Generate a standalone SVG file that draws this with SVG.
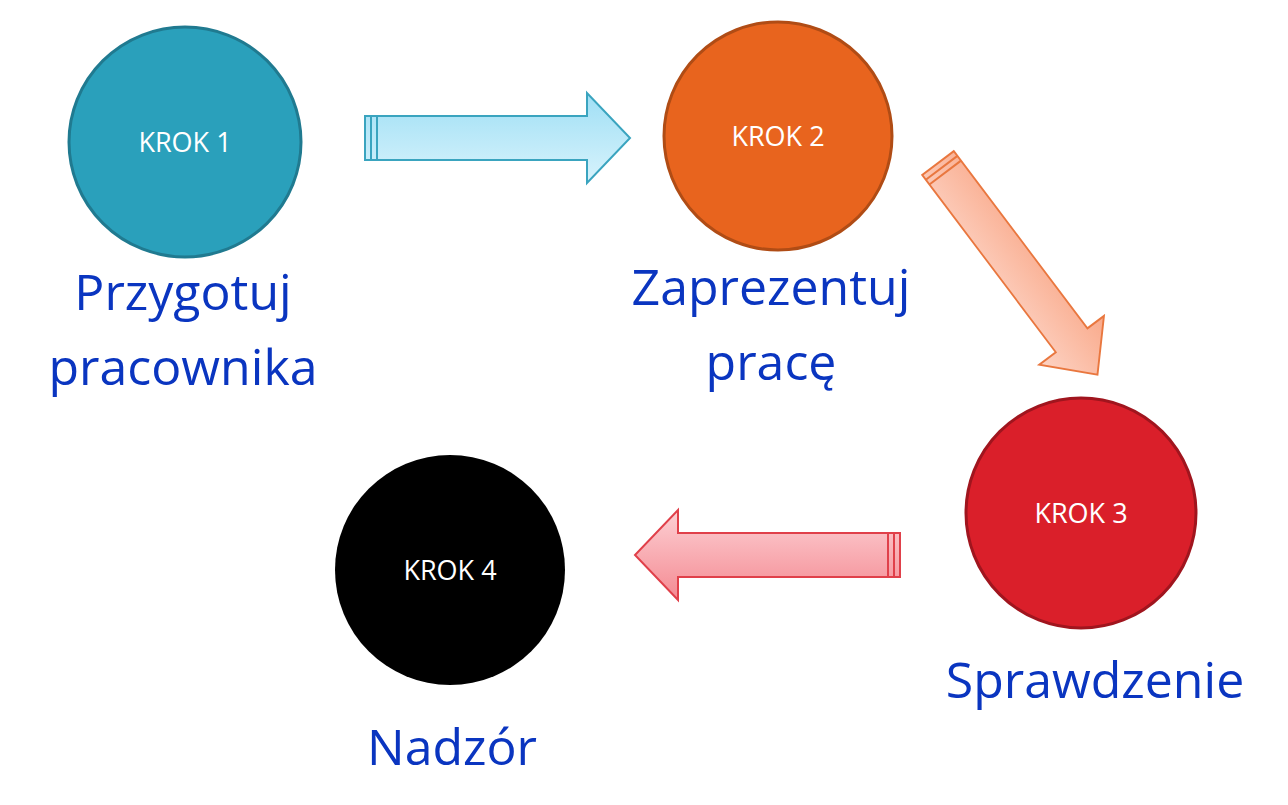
<svg xmlns="http://www.w3.org/2000/svg" width="1288" height="805" viewBox="0 0 1288 805">
<style>
.k{font-family:"Open Sans","Liberation Sans",sans-serif;font-size:27px;fill:#fff;text-anchor:middle}
.l{font-family:"Open Sans","Liberation Sans",sans-serif;font-size:50px;fill:#0a35c0;text-anchor:middle}
</style>
<defs>
<linearGradient id="gb" x1="0" y1="0" x2="0" y2="1"><stop offset="0" stop-color="#9fdff5"/><stop offset="1" stop-color="#d8f3fc"/></linearGradient>
<linearGradient id="go" x1="0" y1="0" x2="0" y2="1"><stop offset="0" stop-color="#f9a98a"/><stop offset="1" stop-color="#fdd3c4"/></linearGradient>
<linearGradient id="gr" x1="0" y1="0" x2="0" y2="1"><stop offset="0" stop-color="#f48a92"/><stop offset="1" stop-color="#fdd0d4"/></linearGradient>
<g id="arr"><path d="M0,-22 H222 V-45 L265,0 L222,45 V22 H0 Z"/><path d="M6,-22 V22 M12,-22 V22" fill="none"/></g>
</defs>
<rect width="1288" height="805" fill="#fff"/>
<g id="connectors">
<g fill="url(#gb)" stroke="#3aa4bf" stroke-width="2"><use href="#arr" transform="translate(365,138)"/></g>
<g fill="url(#go)" stroke="#e9773f" stroke-width="2"><use href="#arr" transform="translate(938,163) rotate(53) scale(1,0.9)"/></g>
<g fill="url(#gr)" stroke="#e0404a" stroke-width="2"><use href="#arr" transform="translate(900,555) rotate(180)"/></g>
</g>
<g id="n1"><ellipse cx="185" cy="142" rx="116" ry="115" fill="#2aa0bb" stroke="#207a90" stroke-width="3"/><text class="k" x="185" y="152">KROK 1</text></g>
<g id="n2"><ellipse cx="778" cy="136" rx="114" ry="114" fill="#e8641e" stroke="#b04c15" stroke-width="3"/><text class="k" x="778" y="146">KROK 2</text></g>
<g id="n3"><ellipse cx="1081" cy="513" rx="115" ry="115" fill="#da1f2a" stroke="#a0151e" stroke-width="3"/><text class="k" x="1081" y="523">KROK 3</text></g>
<g id="n4"><ellipse cx="450" cy="570" rx="115" ry="115" fill="#000"/><text class="k" x="450" y="580">KROK 4</text></g>
<g id="labels">
<text class="l" x="183" y="310">Przygotuj</text>
<text class="l" x="183" y="385">pracownika</text>
<text class="l" x="771" y="305">Zaprezentuj</text>
<text class="l" x="771" y="380">pracę</text>
<text class="l" x="1095" y="698">Sprawdzenie</text>
<text class="l" x="452" y="765">Nadzór</text>
</g>
</svg>
